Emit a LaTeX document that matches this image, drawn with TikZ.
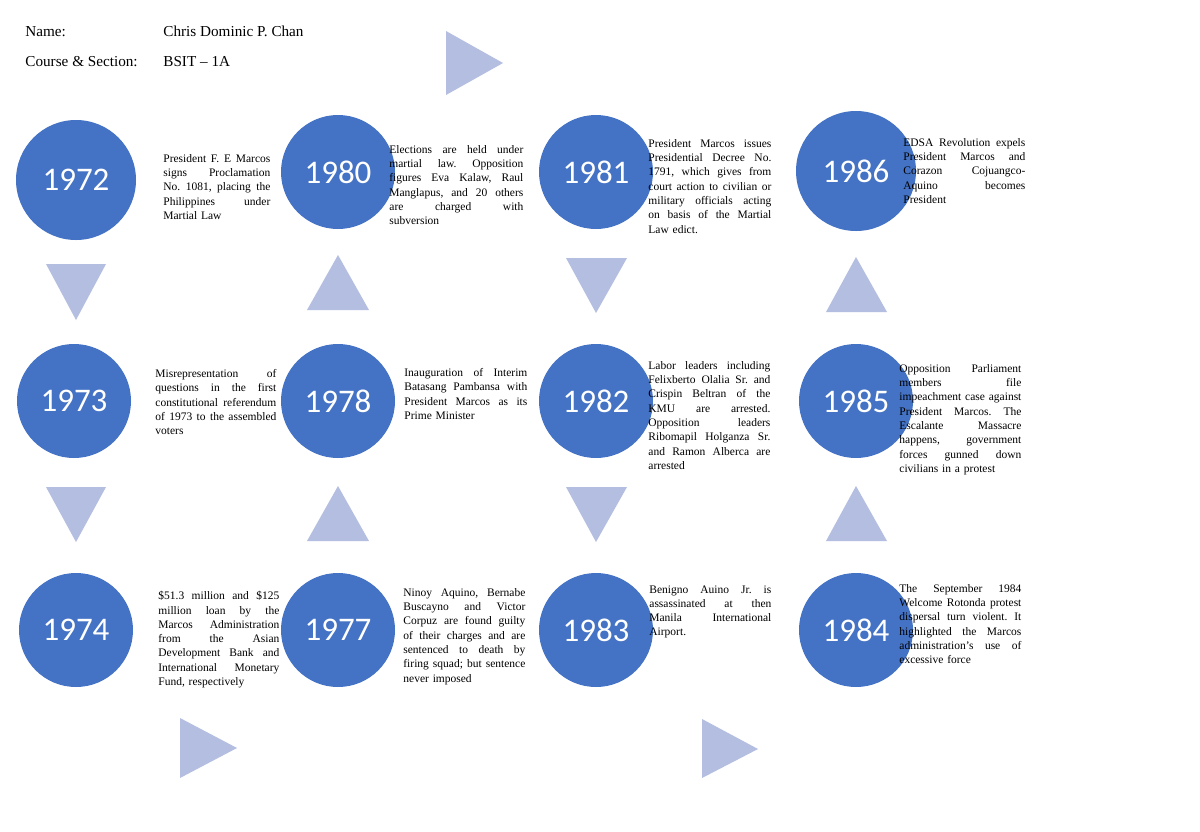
\documentclass[tikz,border=0pt]{standalone}
\usepackage{fontspec}
\setmainfont{Liberation Serif}
\newfontfamily\yearfont{Carlito}
\definecolor{circblue}{RGB}{68,114,196}
\definecolor{tribl}{RGB}{180,190,224}
\newcommand\jl[1]{\noindent\hbox to \hsize{\frenchspacing\spaceskip=0pt\xspaceskip=0pt\relax #1}\\}
\begin{document}
\begin{tikzpicture}[x=0.5pt,y=-0.5pt,
  yearc/.style={circle,fill=circblue,draw=none,text=white,
    font=\yearfont\fontsize{16.5}{18}\selectfont,inner sep=0pt,minimum size=57pt},
  bigyear/.style={yearc,minimum size=60pt},
  desc/.style={anchor=north west,inner sep=0pt,text width=#1,align=left,
    font=\fontsize{5.75}{7.15}\selectfont},
  hdr/.style={anchor=base west,inner sep=0pt,font=\fontsize{7.6}{9}\selectfont},
  tri/.style={fill=tribl,draw=none}]
\useasboundingbox (0,0) rectangle (1200,831);
\fill[white] (0,0) rectangle (1200,831);

% header
\node[hdr] (lname) at (25,36.5) {Name:};
\node[hdr] (lcourse) at (25,66.5) {Course \& Section:};
\node[hdr] (vname) at (163,36.5) {Chris Dominic P. Chan};
\node[hdr] (vcourse) at (163,66.5) {BSIT – 1A};

% triangles
\fill[tri] (446,31) -- (503,63) -- (446,95) -- cycle;
\fill[tri] (180,718) -- (237,748) -- (180,778) -- cycle;
\fill[tri] (702,719) -- (758,749) -- (702,778) -- cycle;
\fill[tri] (46,264) -- (106,264) -- (76,320) -- cycle;
\fill[tri] (46,487) -- (106,487) -- (76,542) -- cycle;
\fill[tri] (566,258) -- (627,258) -- (596,313) -- cycle;
\fill[tri] (566,487) -- (627,487) -- (596,542) -- cycle;
\fill[tri] (307,310) -- (369,310) -- (338,255) -- cycle;
\fill[tri] (307,541) -- (369,541) -- (338,486) -- cycle;
\fill[tri] (826,312) -- (887,312) -- (856,257) -- cycle;
\fill[tri] (826,541) -- (887,541) -- (856,486) -- cycle;

% circles
\node[bigyear] (y1972) at (76,180) {1972};
\node[yearc] (y1980) at (338,172) {1980};
\node[yearc] (y1981) at (596,172) {1981};
\node[bigyear] (y1986) at (856,171) {1986};
\node[yearc] (y1973) at (74,401) {1973};
\node[yearc] (y1978) at (338,401) {1978};
\node[yearc] (y1982) at (596,401) {1982};
\node[yearc] (y1985) at (856,401) {1985};
\node[yearc] (y1974) at (76,630) {1974};
\node[yearc] (y1977) at (338,630) {1977};
\node[yearc] (y1983) at (596,630) {1983};
\node[yearc] (y1984) at (856,630) {1984};

% descriptions
\node[desc=53.5pt] (t1972) at (163,154) {\jl{President F. E Marcos}\jl{signs Proclamation}\jl{No. 1081, placing the}\jl{Philippines under}Martial Law};
\node[desc=67pt] (t1980) at (389,145) {\jl{Elections are held under}\jl{martial law. Opposition}\jl{figures Eva Kalaw, Raul}\jl{Manglapus, and 20 others}\jl{are charged with}subversion};
\node[desc=61.5pt] (t1981) at (648,139) {\jl{President Marcos issues}\jl{Presidential Decree No.}\jl{1791, which gives from}\jl{court action to civilian or}\jl{military officials acting}\jl{on basis of the Martial}Law edict.};
\node[desc=61pt] (t1986) at (903,138) {\jl{EDSA Revolution expels}\jl{President Marcos and}\jl{Corazon Cojuangco-}\jl{Aquino becomes}President};
\node[desc=60.5pt] (t1973) at (155,369) {\jl{Misrepresentation of}\jl{questions in the first}\jl{constitutional referendum}\jl{of 1973 to the assembled}voters};
\node[desc=61.5pt] (t1978) at (404,368) {\jl{Inauguration of Interim}\jl{Batasang Pambansa with}\jl{President Marcos as its}Prime Minister};
\node[desc=61pt] (t1982) at (648,361) {\jl{Labor leaders including}\jl{Felixberto Olalia Sr. and}\jl{Crispin Beltran of the}\jl{KMU are arrested.}\jl{Opposition leaders}\jl{Ribomapil Holganza Sr.}\jl{and Ramon Alberca are}arrested};
\node[desc=61pt] (t1985) at (899,364) {\jl{Opposition Parliament}\jl{members file}\jl{impeachment case against}\jl{President Marcos. The}\jl{Escalante Massacre}\jl{happens, government}\jl{forces gunned down}civilians in a protest};
\node[desc=60.5pt] (t1974) at (158,591) {\jl{\$51.3 million and \$125}\jl{million loan by the}\jl{Marcos Administration}\jl{from the Asian}\jl{Development Bank and}\jl{International Monetary}Fund, respectively};
\node[desc=61pt] (t1977) at (403,588) {\jl{Ninoy Aquino, Bernabe}\jl{Buscayno and Victor}\jl{Corpuz are found guilty}\jl{of their charges and are}\jl{sentenced to death by}\jl{firing squad; but sentence}never imposed};
\node[desc=61pt] (t1983) at (649,585) {\jl{Benigno Auino Jr. is}\jl{assassinated at then}\jl{Manila International}Airport.};
\node[desc=61pt] (t1984) at (899,584) {\jl{The September 1984}\jl{Welcome Rotonda protest}\jl{dispersal turn violent. It}\jl{highlighted the Marcos}\jl{administration’s use of}excessive force};
\end{tikzpicture}
\end{document}
